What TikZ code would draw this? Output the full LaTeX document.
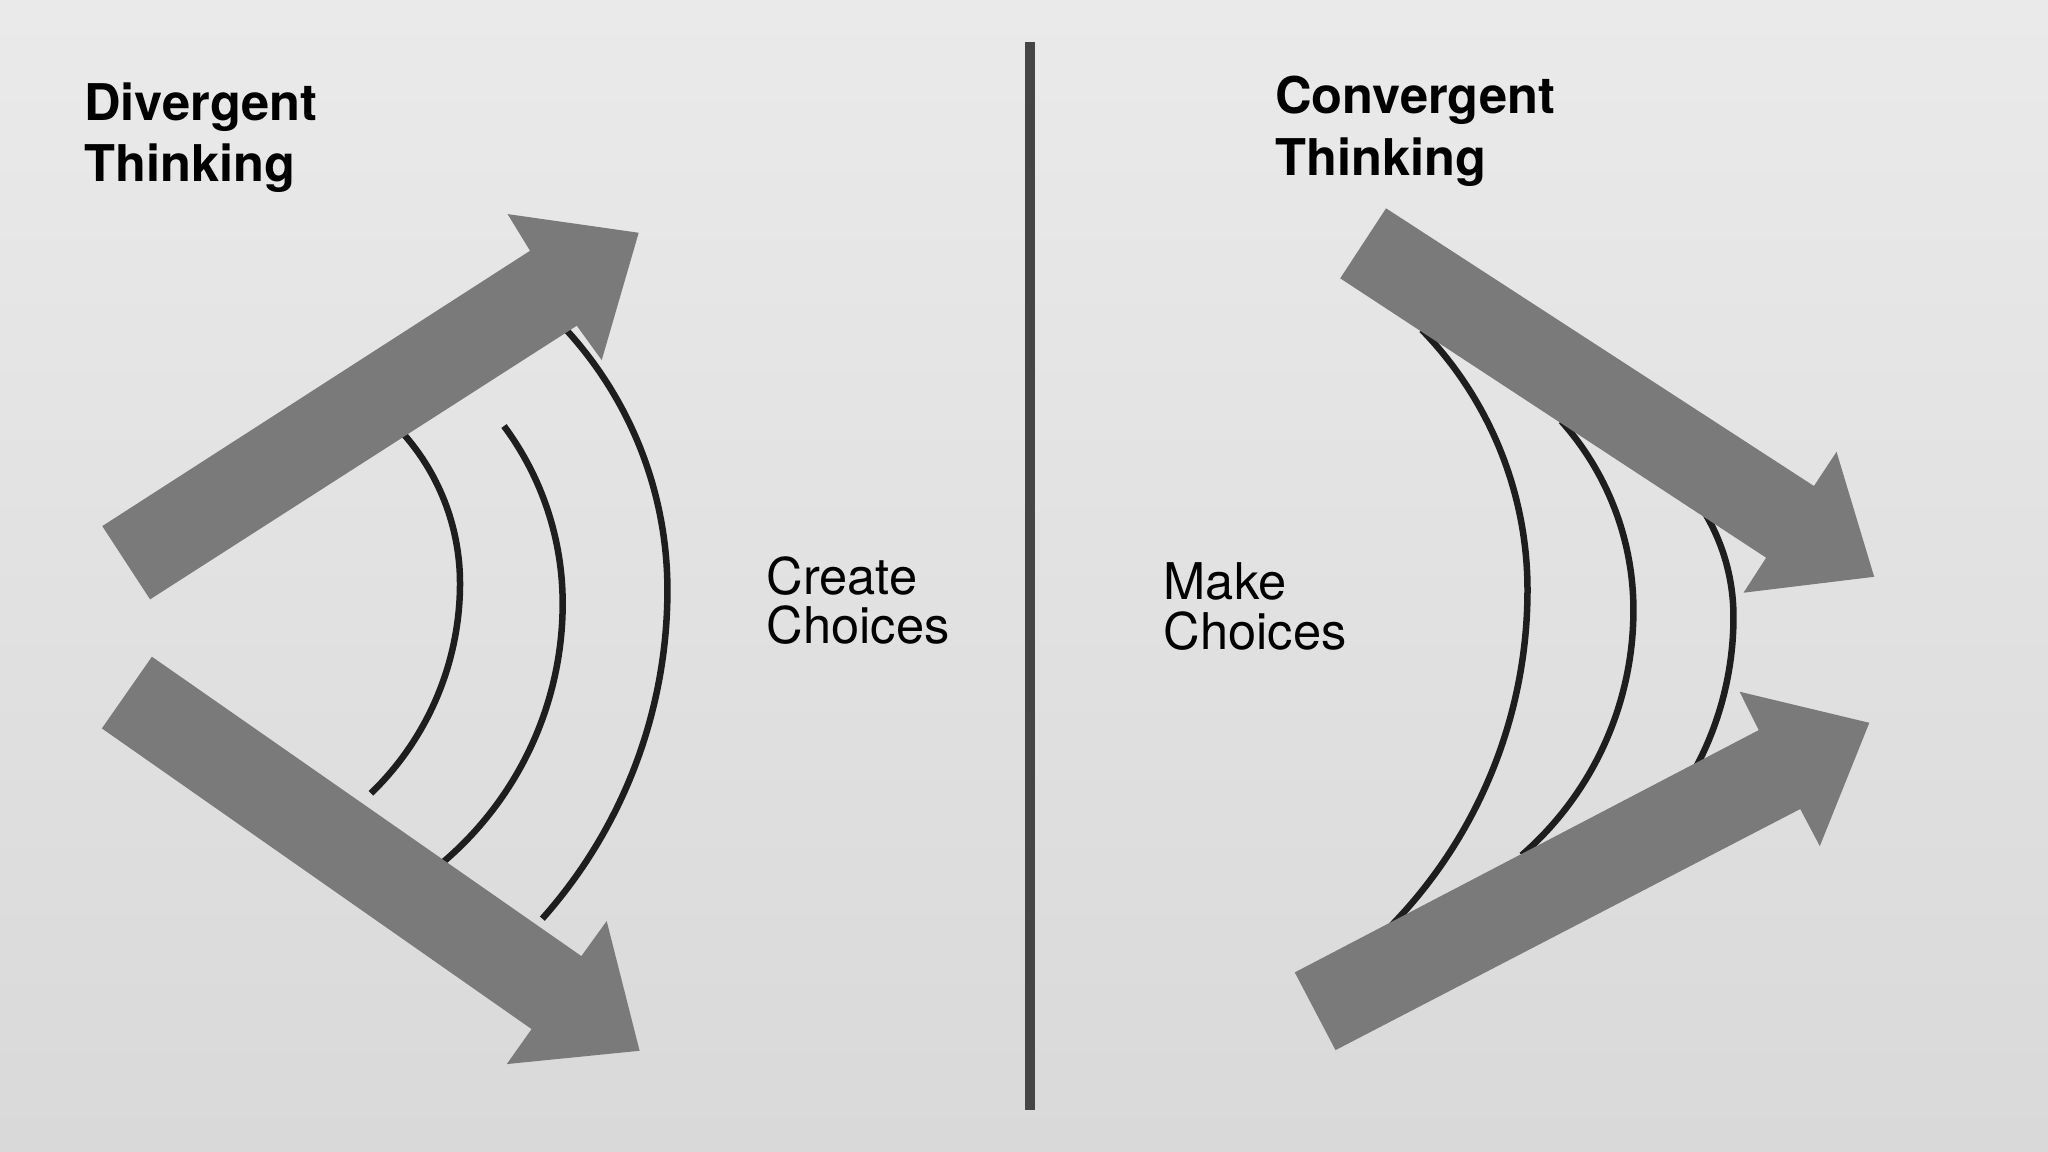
\documentclass[tikz,border=0pt]{standalone}
\usepackage{fontspec}
\setmainfont{TeX Gyre Heros}
\definecolor{bgtop}{HTML}{EAEAEA}
\definecolor{bgbot}{HTML}{D9D9D9}
\definecolor{arrowgray}{HTML}{7A7A7A}
\definecolor{curvecol}{HTML}{1E1E1E}
\definecolor{divcol}{HTML}{454545}
\tikzset{
  bigarrow/.style={fill=arrowgray, draw=none},
  bowline/.style={draw=curvecol, line width=1.85pt},
  divider/.style={draw=divcol, line width=2.85pt},
  titletext/.style={anchor=base west, inner sep=0pt, align=left,
    font=\fontsize{14.4}{17.5}\selectfont\bfseries},
  choicetext/.style={anchor=base west, inner sep=0pt, align=left,
    font=\fontsize{14.4}{14}\selectfont},
}
% #1,#2 = rightmost point, #3 = upper radius, #4 = upper sweep,
% #5 = lower radius, #6 = lower sweep (y axis points down)
\newcommand{\bowarc}[6]{%
  \draw[bowline] (#1,#2) ++(-#3,0) ++(-#4:#3)
    arc[start angle=-#4, end angle=0, radius=#3]
    arc[start angle=0, end angle=#6, radius=#5];}
\begin{document}
\begin{tikzpicture}[x=0.0130612cm, y=-0.0130612cm]
\useasboundingbox (0,0) rectangle (1568,882);
\shade[top color=bgtop, bottom color=bgbot] (0,0) rectangle (1568,882);

% left curves
\bowarc{352.2}{446.6}{172.8}{42.8}{223.7}{45.96}
\bowarc{430.8}{462}{227.8}{36.6}{260.1}{50.6}
\bowarc{511}{451.8}{295.1}{43.6}{378.3}{41.68}
% right curves
\bowarc{1169.5}{451.8}{285.9}{44.2}{368.6}{44.1}
\bowarc{1250.6}{467.1}{217.2}{41.8}{248.7}{49.0}
\bowarc{1327.2}{472.2}{155.1}{32.0}{245.7}{28.4}

% arrows
\fill[bigarrow] (78.3,402.8) -- (405.8,192) -- (388.6,163.9) -- (489,178.2)
  -- (460.7,275.7) -- (441.6,249.4) -- (114.9,458.9) -- cycle;
\fill[bigarrow] (116.3,502.8) -- (445.1,732) -- (464.5,705.2) -- (489.7,804.5)
  -- (388,814.7) -- (407,787.9) -- (78,557.7) -- cycle;
\fill[bigarrow] (1061.2,159.5) -- (1388.8,372.1) -- (1406.1,345.9) -- (1434.9,441.6)
  -- (1334.9,453.8) -- (1352.2,427) -- (1026.1,213.1) -- cycle;
\fill[bigarrow] (991.3,744.5) -- (1346.5,559) -- (1331.9,529.6) -- (1431.2,553.4)
  -- (1393.3,647.8) -- (1378.3,619.4) -- (1022.5,804) -- cycle;

% divider
\coordinate (divtop) at (788.9,32.4);
\coordinate (divbot) at (788.9,850);
\draw[divider] (divtop) -- (divbot);

% texts (base anchor = baseline of the last line)
\node[titletext] (divt) at (64,139.1) {Divergent\\Thinking};
\node[titletext] (convt) at (975.8,134.3) {Convergent\\Thinking};
\node[choicetext] (create) at (586.5,492.6) {Create\\Choices};
\node[choicetext] (make) at (890.5,496.9) {Make\\Choices};
\end{tikzpicture}
\end{document}
